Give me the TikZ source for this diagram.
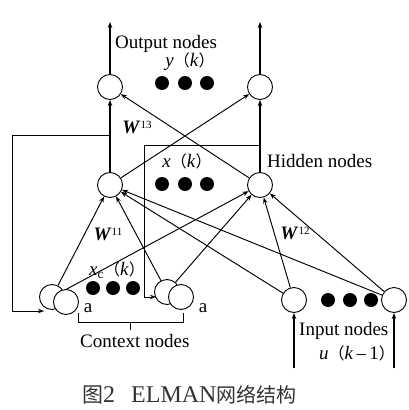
\documentclass[tikz,border=0pt]{standalone}
\usepackage{fontspec}
\setmainfont{Liberation Serif}
\newfontfamily\cjk{Noto Sans CJK SC}
\usetikzlibrary{arrows.meta}

\tikzset{
  neuron/.style={circle,draw,fill=white,minimum size=25pt,inner sep=0pt,line width=0.9pt},
  blob/.style={circle,fill=black,minimum size=14pt,inner sep=0pt},
  wire/.style={line width=0.95pt,-{Stealth[length=6pt,width=4.5pt]}},
  trunk/.style={line width=1.5pt,-{Stealth[length=6pt,width=4.5pt]}},
  lbl/.style={font=\fontsize{19}{22}\selectfont,inner sep=0pt},
}
\newcommand{\fwp}[1]{{\cjk\fontsize{16}{18}\selectfont #1}}
\newcommand{\wlbl}[1]{\textbf{\textit{W}}\raisebox{5pt}{\fontsize{11}{12}\selectfont #1}}

\begin{document}
\begin{tikzpicture}[x=1pt,y=-1pt]
\useasboundingbox (0,0) rectangle (408,410);

% output layer
\node[neuron] (o1) at (110,87) {};
\node[neuron] (o2) at (260,87) {};
\coordinate (y1) at (110,22);
\coordinate (y2) at (260,22);

% hidden layer
\node[neuron] (h1) at (110,185) {};
\node[neuron] (h2) at (260,185) {};

% context layer
\node[neuron] (c1b) at (52,297) {};
\node[neuron] (c2b) at (167,292) {};

% input layer
\node[neuron] (i1) at (294,300) {};
\node[neuron] (i2) at (394,300) {};
\coordinate (u1) at (294,368);
\coordinate (u2) at (394,368);

% dots
\foreach \x in {162,185,207}
{
  \node[blob] (yd\x) at (\x,83) {};
  \node[blob] (xd\x) at (\x,184) {};
}
\foreach \x in {93,113,133}
  \node[blob] (cd\x) at (\x,288) {};
\foreach \x in {328,350,371}
  \node[blob] (id\x) at (\x,300) {};

% hidden -> output
\draw[trunk] (o1) -- (y1);
\draw[trunk] (o2) -- (y2);
\draw[trunk] (h1) -- (o1);
\draw[trunk] (h2) -- (o2);
\draw[wire] (h1) -- (o2);
\draw[wire] (h2) -- (o1);

% context, input -> hidden
\foreach \s in {c1b,c2b,i1,i2}
{
  \draw[wire] (\s) -- (h1);
  \draw[wire] (\s) -- (h2);
}
\draw[trunk] (u1) -- (i1);
\draw[trunk] (u2) -- (i2);

% feedback
\coordinate (f1) at (110,135);
\coordinate (f1a) at (12,135);
\coordinate (f1b) at (12,311);
\coordinate (f1c) at (44,311);
\coordinate (f2) at (260,145);
\coordinate (f2a) at (144,145);
\coordinate (f2b) at (144,297);
\coordinate (f2c) at (156,297);
\draw[wire] (f1) -- (f1a) -- (f1b) -- (f1c);
\draw[wire] (f2) -- (f2a) -- (f2b) -- (f2c);

% front context circles
\node[neuron] (c1f) at (66,302) {};
\node[neuron] (c2f) at (181,297) {};

% brace
\coordinate (b1) at (78,313);
\coordinate (b2) at (183,313);
\draw[line width=0.9pt] (b1) -- (78,322) -- (183,322) -- (b2);
\draw[line width=0.9pt] (130,322) -- (130,330);

% labels
\node[lbl,anchor=base west] (tout) at (115,48) {Output nodes};
\node[lbl] (tyk) at (190,62) {\textit{y}\fwp{（}\textit{k}\fwp{）}};
\node[lbl] (txk) at (187,161) {\textit{x}\fwp{（}\textit{k}\fwp{）}};
\node[lbl,anchor=base west] (thid) at (267,167) {Hidden nodes};
\node[lbl] (txc) at (117,270) {\textit{x}\textsubscript{c}\fwp{（}\textit{k}\fwp{）}};
\node[lbl] (ta1) at (88,308) {a};
\node[lbl] (ta2) at (203,308) {a};
\node[lbl,anchor=base west] (tctx) at (80,347) {Context nodes};
\node[lbl,anchor=base west] (tin) at (299,335) {Input nodes};
\node[lbl] (tuk) at (357,353) {\textit{u}\fwp{（}\textit{k}\,–\,1\fwp{）}};
\node[lbl] (w13) at (137,127) {\wlbl{13}};
\node[lbl] (w11) at (108,234) {\wlbl{11}};
\node[lbl] (w12) at (295,233) {\wlbl{12}};

% caption
\node[inner sep=0pt,anchor=base west,text=black!80] (cap) at (82,402)
  {{\cjk\fontsize{21}{24}\selectfont 图}\fontsize{24}{26}\selectfont 2\hspace{16pt}ELMAN{\cjk\fontsize{20}{24}\selectfont 网络结构}};

\end{tikzpicture}
\end{document}
